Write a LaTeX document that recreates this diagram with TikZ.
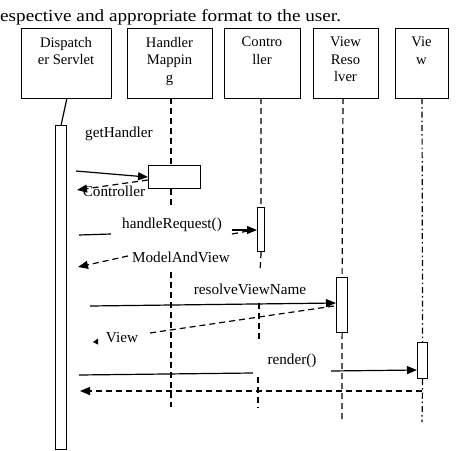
\documentclass[tikz,border=0pt]{standalone}
\usepackage{fontspec}
\setmainfont{Liberation Serif}
\usetikzlibrary{arrows.meta}
\begin{document}
\begin{tikzpicture}[x=1pt,y=-1pt,
  lw/.style={line width=1.2pt},
  objbox/.style={draw,lw,minimum height=70pt,inner sep=0pt,anchor=north west},
  objtxt/.style={anchor=north,inner sep=0pt,align=center,font=\fontsize{14.6}{17.5}\selectfont},
  actbox/.style={draw,lw,fill=white,inner sep=0pt,anchor=north west},
  life/.style={lw,dash pattern=on 6pt off 4pt},
  lifedd/.style={lw,dash pattern=on 6pt off 3pt on 1.5pt off 3pt},
  msg/.style={lw,-{Triangle[length=10pt,width=8pt]}},
  ret/.style={lw,dash pattern=on 6pt off 4pt,-{Triangle[length=10pt,width=8pt]}},
  lbl/.style={font=\fontsize{15.2}{18}\selectfont,inner sep=0pt}]
\useasboundingbox (0,0) rectangle (474,450);
\node[anchor=base west,inner sep=0pt,font=\fontsize{17}{20}\selectfont] (cap) at (0,21) {\scalebox{1.13}[1]{espective and appropriate format to the user.}};
% object boxes
\node[objbox,minimum width=90pt] (ds) at (21,28) {};
\node[objtxt] (dst) at (66,37) {Dispatch\\er Servlet};
\node[objbox,minimum width=85pt] (hm) at (127,28) {};
\node[objtxt] (hmt) at (169.5,37) {Handler\\Mappin\\g};
\node[objbox,minimum width=76pt] (co) at (224,28) {};
\node[objtxt] (cot) at (262,37) {Contro\\ller};
\node[objbox,minimum width=65pt] (vr) at (313,28) {};
\node[objtxt] (vrt) at (345.5,37) {View\\Reso\\lver};
\node[objbox,minimum width=53pt] (vw) at (395,28) {};
\node[objtxt] (vwt) at (421.5,37) {Vie\\w};
% activation boxes
\node[actbox,minimum width=11pt,minimum height=324pt] (dsa) at (55,125) {};
\node[actbox,minimum width=52pt,minimum height=23pt] (hma) at (148,165) {};
\node[actbox,minimum width=7pt,minimum height=44pt] (coa) at (257,207) {};
\node[actbox,minimum width=11pt,minimum height=55pt] (vra) at (336,277) {};
\node[actbox,minimum width=10pt,minimum height=36pt] (vwa) at (417,342) {};
% lifelines
\coordinate (dsb) at (67,98);
\draw[lw] (dsb) -- (dsa.north);
\coordinate (hm1) at (171,98);
\draw[life] (hm1) -- (hm1 |- hma.north);
\coordinate (hm2) at (171,205);
\draw[life] (hm1 |- hma.south) -- (hm2);
\coordinate (hm3) at (171,272);
\coordinate (hm4) at (171,407);
\draw[life] (hm3) -- (hm4);
\coordinate (co1) at (261,98);
\draw[life] (co1) -- (coa.north);
\coordinate (co2) at (260,272);
\draw[life] (coa.south) -- (co2);
\coordinate (co3) at (259,303);
\coordinate (co4) at (259,343);
\draw[life] (co3) -- (co4);
\coordinate (co5) at (258,377);
\coordinate (co6) at (258,408);
\draw[life] (co5) -- (co6);
\coordinate (vr1) at (343,98);
\coordinate (vr2) at (342,422);
\draw[life] (vr1) -- (vra.north);
\draw[life] (vra.south) -- (vr2);
\coordinate (vw1) at (422,98);
\coordinate (vw2) at (422,422);
\draw[lifedd] (vw1) -- (vwa.north);
\draw[lifedd] (vwa.south) -- (vw2);
% messages
\node[lbl] (l1) at (119,134) {getHandler};
\coordinate (m1a) at (76,171);
\draw[msg] (m1a) -- (hma.west);
\coordinate (m2a) at (148,180);
\coordinate (m2b) at (77,190);
\draw[ret] (m2a) -- (m2b);
\node[lbl] (l2) at (114,191) {Controller};
\node[lbl] (l3) at (172,225) {handleRequest()};
\coordinate (m3a) at (79,235);
\coordinate (m3b) at (111,234);
\draw[lw] (m3a) -- (m3b);
\coordinate (m3c) at (232,230);
\draw[msg] (m3c) -- (coa.west |- m3c);
\coordinate (m3d) at (232,234);
\coordinate (m3e) at (248,231);
\draw[lw,dash pattern=on 6pt off 4pt] (m3d) -- (m3e);
\node[lbl] (l4) at (181,257) {ModelAndView};
\coordinate (m4a) at (128,256);
\coordinate (m4b) at (78,267);
\draw[ret] (m4a) -- (m4b);
\node[lbl] (l5) at (250,289) {resolveViewName};
\coordinate (m5a) at (90,306);
\coordinate (m5b) at (336,303);
\draw[msg] (m5a) -- (m5b);
\coordinate (m6a) at (334,306);
\coordinate (m6b) at (150,333);
\draw[lw,dash pattern=on 6pt off 4pt] (m6a) -- (m6b);
\coordinate (m6c) at (93,342);
\fill (m6c) -- ++(5,-3.5) -- ++(0,6) -- cycle;
\node[lbl] (l6) at (122,338) {View};
\node[lbl] (l7) at (292,361) {render()};
\coordinate (m7a) at (79,375);
\coordinate (m7b) at (253,373);
\draw[lw] (m7a) -- (m7b);
\coordinate (m7c) at (331,371);
\draw[msg] (m7c) -- (vwa.west |- 0,370);
\coordinate (m8a) at (422,391);
\coordinate (m8b) at (80,391);
\draw[ret] (m8a) -- (m8b);
\end{tikzpicture}
\end{document}
